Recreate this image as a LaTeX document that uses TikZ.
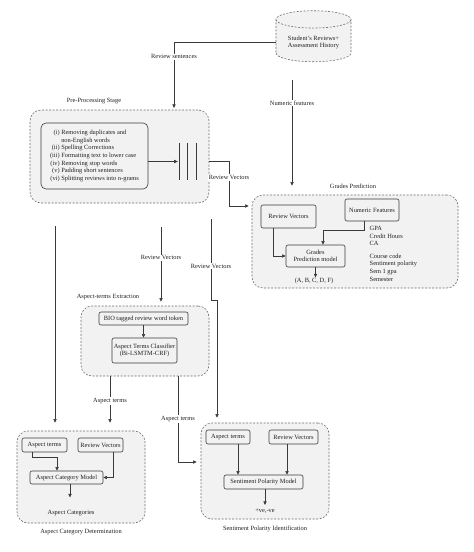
\documentclass[tikz,border=0pt]{standalone}
\usepackage{fontspec}
\setmainfont{Liberation Serif}
\usetikzlibrary{arrows.meta,shapes.geometric}

\definecolor{lineclr}{HTML}{3A3A3A}
\definecolor{textclr}{HTML}{202020}
\definecolor{stagefill}{HTML}{F2F2F2}
\definecolor{stageline}{HTML}{6E6E6E}

\tikzset{
  stage/.style={draw=stageline, dash pattern=on 2pt off 1.5pt, fill=stagefill, rounded corners=11pt, inner sep=0pt, line width=0.6pt},
  blk/.style={draw=lineclr, rounded corners=2pt, line width=0.6pt, inner sep=1pt, align=center},
  lab/.style={fill=white, inner sep=1pt, align=center},
  tag/.style={inner sep=0.5pt, align=center},
  arr/.style={draw=lineclr, line width=0.6pt, -{Triangle[length=3.6pt,width=3.2pt]}},
}

\begin{document}
\begin{tikzpicture}[x=1pt, y=-1pt, font=\fontsize{6.4}{7.6}\selectfont, text=textclr]
  \useasboundingbox (0,0) rectangle (474,552);

  % data source
  \node[cylinder, shape border rotate=90, aspect=0.3, draw=stageline, dash pattern=on 2pt off 1.5pt, fill=stagefill, line width=0.6pt,
        minimum width=75pt, minimum height=51pt, align=center] (db) at (313.5,42.5) {Student's Reviews+\\Assessment History};

  % stage boxes
  \node[stage, minimum width=179pt, minimum height=93pt] (pre) at (119.5,156.5) {};
  \node[stage, minimum width=206pt, minimum height=93pt] (gp) at (355,241.5) {};
  \node[stage, minimum width=128pt, minimum height=70pt] (ate) at (145,341) {};
  \node[stage, minimum width=128pt, minimum height=92pt] (acd) at (81,477) {};
  \node[stage, minimum width=128pt, minimum height=96pt] (spi) at (265,471) {};

  \node[tag] (preT) at (94,101) {Pre-Processing Stage};
  \node[tag] (gpT) at (353,186) {Grades Prediction};
  \node[tag] (ateT) at (108,297) {Aspect-terms Extraction};
  \node[tag] (acdT) at (81,532) {Aspect Category Determination};
  \node[tag] (spiT) at (265,529) {Sentiment Polarity Identification};

  % pre-processing
  \node[blk, rounded corners=5pt, minimum width=107pt, minimum height=66pt, align=left] (steps) at (94.5,156) {%
    \begin{tabular}{@{}r@{ }l@{}}
      (i) & Removing duplicates and\\
          & non-English words\\
      (ii) & Spelling Corrections\\
      (iii) & Formatting text to lower case\\
      (iv) & Removing stop words\\
      (v) & Padding short sentences\\
      (vi) & Splitting reviews into n-grams
    \end{tabular}};
  \node[minimum width=19pt, minimum height=37pt, inner sep=0pt] (bars) at (187.5,161.5) {};
  \foreach \dx in {-8.5,0,8.5}
    \draw[lineclr, line width=1pt] ([xshift=\dx pt]bars.north) -- ([xshift=\dx pt]bars.south);

  % grades prediction
  \node[blk, minimum width=55pt, minimum height=23pt] (rv1) at (288.5,216.5) {Review Vectors};
  \node[blk, minimum width=54pt, minimum height=22pt] (nf) at (372,210) {Numeric Features};
  \node[blk, minimum width=59pt, minimum height=22pt] (gpm) at (315.5,256) {Grades\\Prediction model};
  \node[tag] (grd) at (314,281) {(A, B, C, D, F)};
  \node[tag, anchor=north west, align=left] (feat) at (369,225.5) {GPA\\Credit Hours\\CA\\[5pt]Course code\\Sentiment polarity\\Sem 1 gpa\\Semester};

  % aspect-terms extraction
  \node[blk, minimum width=89pt, minimum height=13pt] (bio) at (143.5,318.5) {BIO tagged review word token};
  \node[blk, minimum width=65pt, minimum height=25pt] (atc) at (144.5,350.5) {Aspect Terms Classifier\\(Bi-LSMTM-CRF)};

  % aspect category determination
  \node[blk, minimum width=45pt, minimum height=14pt] (at1) at (44.5,445) {Aspect terms};
  \node[blk, minimum width=45pt, minimum height=14pt] (rv2) at (100.5,445) {Review Vectors};
  \node[blk, minimum width=73pt, minimum height=13pt] (acm) at (66.5,477.5) {Aspect Category Model};
  \node[tag] (ac) at (71,513) {Aspect Categories};

  % sentiment polarity identification
  \node[blk, minimum width=44pt, minimum height=14pt] (at2) at (228,437) {Aspect terms};
  \node[blk, minimum width=49pt, minimum height=14pt] (rv3) at (293.5,437) {Review Vectors};
  \node[blk, minimum width=79pt, minimum height=14pt] (spm) at (263.5,482) {Sentiment Polarity Model};
  \node[tag] (pol) at (265,511) {+ve,-ve};

  % free ends and turning points
  \coordinate (rs) at (174,108);
  \coordinate (nfs) at (292,80);
  \coordinate (rvTurn) at (229,206);
  \coordinate (l1) at (55,226);
  \coordinate (l2) at (161,227);
  \coordinate (l3) at (211,219);
  \coordinate (l3b) at (217,300);
  \coordinate (x110) at (110,0);
  \coordinate (x178) at (178,0);
  \coordinate (y462) at (0,462);

  % main flow
  \draw[arr] (db.west) -| node[lab, pos=0.61] {Review sentences} (rs);
  \draw[arr, shorten >=9pt] (nfs) -- node[lab, pos=0.2] {Numeric features} (nfs |- gp.north);
  \draw[arr] (steps.east |- bars) -- (bars.west);
  \draw[arr, shorten >=3pt] (pre.east |- bars) -| node[lab, pos=0.68] {Review Vectors} (rvTurn) -- (rvTurn -| gp.west);
  \draw[arr, shorten >=8pt] (l1) -- (l1 |- acd.north);
  \draw[arr, shorten >=4pt] (l2) -- node[lab, pos=0.39] {Review Vectors} (l2 |- ate.north);
  \draw[arr, shorten >=5pt] (l3) -- node[lab, pos=0.58] {Review Vectors} (l3 |- l3b) -- (l3b) -- (l3b |- spi.north);
  \draw[arr, shorten >=8pt] (x110 |- ate.south) -- node[lab, pos=0.45] {Aspect terms} (x110 |- acd.north);
  \draw[arr, shorten >=4pt] (x178 |- ate.south) |- node[lab, pos=0.25] {Aspect terms} (spi.west |- y462);

  % inside the stages
  \draw[arr] ([xshift=-15.5pt]rv1.south) |- (gpm.west);
  \draw[arr] ([xshift=-8pt]nf.south) -- ++(0,9) -| ([xshift=7.5pt]gpm.north);
  \draw[arr] (gpm.south) -- (gpm.south |- grd.north);
  \draw[arr] (bio.south) -- (bio.south |- atc.north);
  \draw[arr] ([xshift=-12.5pt]at1.south) -- ++(0,5) -| ([xshift=-9.5pt]acm.north);
  \draw[arr] ([xshift=12.5pt]rv2.south) |- (acm.east);
  \draw[arr, shorten >=12pt] ([xshift=3.5pt]acm.south) -- ([xshift=3.5pt]acm.south |- ac.north);
  \draw[arr] ([xshift=10pt]at2.south) -- ([xshift=10pt]at2.south |- spm.north);
  \draw[arr] ([xshift=-6.5pt]rv3.south) -- ([xshift=-6.5pt]rv3.south |- spm.north);
  \draw[arr, shorten >=3pt] ([xshift=1.5pt]spm.south) -- ([xshift=1.5pt]spm.south |- pol.north);
\end{tikzpicture}
\end{document}
